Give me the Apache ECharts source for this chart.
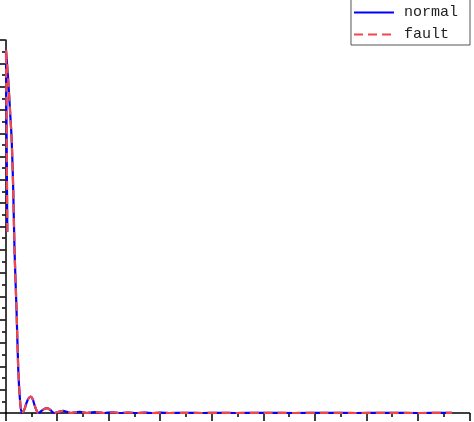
<!DOCTYPE html>
<html>
<head>
<meta charset="utf-8">
<script src="https://cdn.jsdelivr.net/npm/echarts@6/dist/echarts.min.js"></script>
<style>
html,body{margin:0;padding:0;background:#fff;}
#chart{width:474px;height:422px;}
</style>
</head>
<body>
<div id="chart"></div>
<script>
// frequency positions (arbitrary units, axis 0..900)
const freq = [3.5, 1, 5.2, 8.7, 12, 15, 17.5, 21.4, 24.8, 28.1, 31.4,
  36, 40, 44, 48.9, 53, 56, 60, 63, 67, 71, 76, 80.5, 85, 88, 92, 95, 103, 111.6, 119, 127,
  135, 142.7, 150, 158, 166, 174, 182, 190, 198, 206, 214, 222,
  238, 254, 270, 286, 302, 318, 350, 382, 414, 446, 500, 560, 620, 680, 740, 800, 866];
// amplitudes (axis 0..16)
const normalAmp = [7.77, 15.57, 14.29, 13.0, 11.71, 9.57, 6.99, 4.42, 1.84, 0.56, 0,
  0.12, 0.38, 0.60, 0.70, 0.58, 0.36, 0.12, 0, 0.04, 0.11, 0.18, 0.21, 0.16, 0.11, 0.03, 0, 0.05, 0.09, 0.05, 0,
  0.03, 0.05, 0.03, 0, 0.02, 0.035, 0.02, 0, 0.015, 0.025, 0.015, 0,
  0.02, 0, 0.015, 0, 0.012, 0, 0.01, 0, 0.01, 0, 0.008, 0, 0.008, 0, 0.006, 0, 0.005];
const faultAmp = [7.77, 15.57, 14.29, 13.0, 11.71, 9.57, 6.99, 4.42, 1.84, 0.56, 0,
  0.12, 0.38, 0.60, 0.70, 0.58, 0.36, 0.12, 0, 0.04, 0.11, 0.18, 0.21, 0.16, 0.11, 0.03, 0, 0.05, 0.09, 0.05, 0,
  0.03, 0.05, 0.03, 0, 0.02, 0.035, 0.02, 0, 0.015, 0.025, 0.015, 0,
  0.02, 0, 0.015, 0, 0.012, 0, 0.01, 0, 0.01, 0, 0.008, 0, 0.008, 0, 0.006, 0, 0.005];
const seriesNames = ['normal', 'fault'];

const chart = echarts.init(document.getElementById('chart'), null, {renderer: 'canvas'});
const pairs = (a) => freq.map((f, i) => [f, a[i]]);
chart.setOption({
  animation: false,
  backgroundColor: '#ffffff',
  grid: {left: 5.5, right: 4.5, top: 40, bottom: 9, containLabel: false},
  legend: {
    data: seriesNames,
    orient: 'vertical',
    right: 4,
    top: -6,
    padding: [11, 12, 3, 2],
    itemWidth: 40,
    itemHeight: 14,
    itemGap: 7,
    itemStyle: {opacity: 0},
    borderColor: '#555',
    borderWidth: 1,
    borderRadius: 0,
    backgroundColor: '#fff',
    textStyle: {fontFamily: 'Liberation Mono', fontSize: 15, color: '#222', padding: [0, 0, 0, 5]}
  },
  xAxis: {
    type: 'value', min: 0, max: 900, interval: 100,
    axisLine: {show: true, onZero: false, lineStyle: {color: '#000', width: 1.5}},
    axisTick: {show: true, inside: false, length: 8, lineStyle: {color: '#000', width: 1.5}},
    minorTick: {show: true, splitNumber: 2, length: 4, lineStyle: {color: '#000', width: 1.5}},
    axisLabel: {show: false},
    splitLine: {show: false}
  },
  yAxis: {
    type: 'value', min: 0, max: 16, interval: 1,
    axisLine: {show: true, onZero: false, lineStyle: {color: '#000', width: 1.5}},
    axisTick: {show: true, inside: false, length: 6, lineStyle: {color: '#000', width: 1.5}},
    minorTick: {show: true, splitNumber: 2, length: 3.5, lineStyle: {color: '#000', width: 1.5}},
    axisLabel: {show: false},
    splitLine: {show: false}
  },
  series: [
    {name: seriesNames[0], type: 'line', data: pairs(normalAmp), symbol: 'none', smooth: 0.25,
     lineStyle: {color: '#0000ff', width: 2.2}, itemStyle: {color: '#0000ff'}, clip: true},
    {name: seriesNames[1], type: 'line', data: pairs(faultAmp), symbol: 'none', smooth: 0.25,
     lineStyle: {color: '#f04848', width: 2.2, type: [9, 5]}, itemStyle: {color: '#f04848'}, clip: true}
  ]
});
</script>
</body>
</html>
